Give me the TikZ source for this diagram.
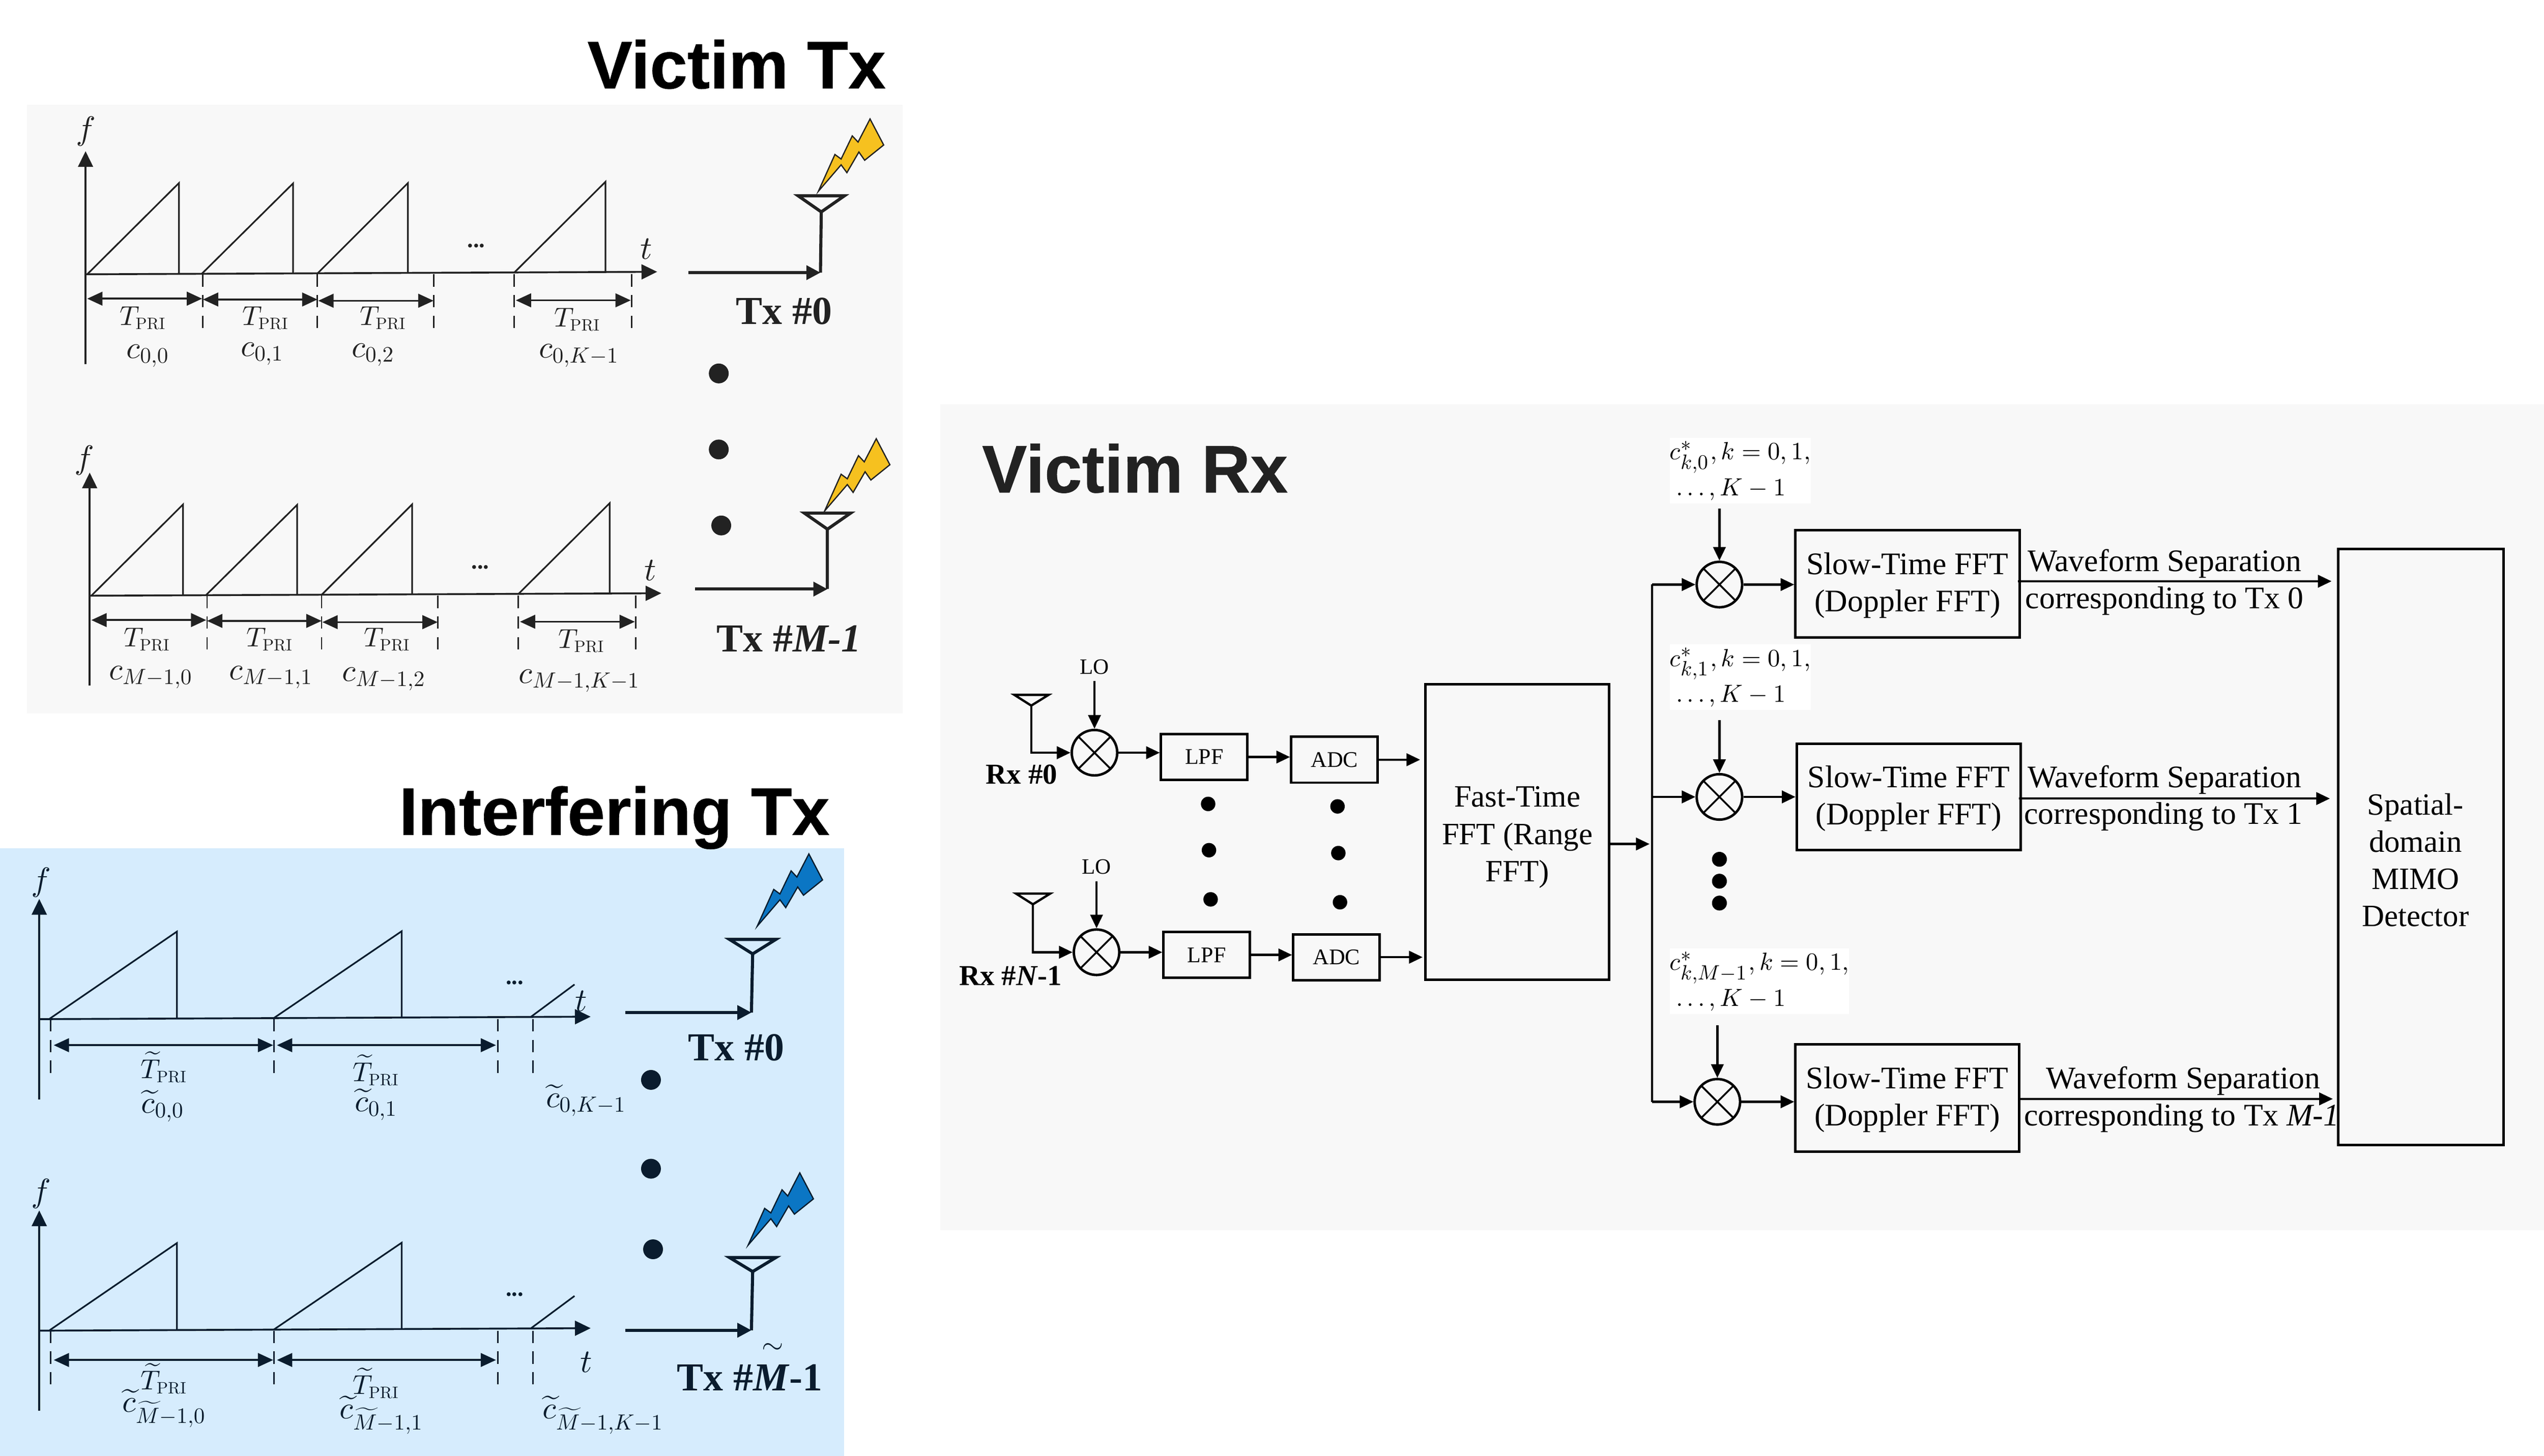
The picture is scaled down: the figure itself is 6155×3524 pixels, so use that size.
\documentclass[tikz,border=0pt]{standalone}
\usepackage[no-math]{fontspec}
\setmainfont{Liberation Serif}
\newfontfamily\headfont[BoldFeatures={FakeBold=0.5}]{Liberation Sans}
\DeclareFontShape{OML}{cmm}{m}{it}{<->cmmi10}{}
\DeclareFontShape{OT1}{cmr}{m}{n}{<->cmr10}{}
\DeclareFontShape{OMS}{cmsy}{m}{n}{<->cmsy10}{}
\DeclareFontShape{OMX}{cmex}{m}{n}{<->cmex10}{}
\DeclareMathSizes{6.6}{6.6}{4}{3}
\usetikzlibrary{arrows.meta}
\newcommand{\fsz}[2]{\fontsize{#1}{#2}\selectfont}
\definecolor{vtgray}{HTML}{F8F8F8}
\definecolor{rxgray}{HTML}{F8F8F8}
\definecolor{ifblue}{HTML}{D6ECFD}
\definecolor{vtink}{HTML}{222222}
\definecolor{ifink}{HTML}{0A1C2E}
\definecolor{boltyellow}{HTML}{F6C11F}
\definecolor{boltblue}{HTML}{0B76C4}
\tikzset{
  head/.style={font=\headfont\bfseries\fsz{16.3}{18},inner sep=0pt},
  axisline/.style={line width=0.45pt,-{Triangle[length=3.8pt,width=3.6pt]}},
  chirpline/.style={line width=0.4pt},
  tickline/.style={line width=0.35pt,dash pattern=on 3pt off 2pt},
  span/.style={line width=0.45pt,{Triangle[length=3.7pt,width=3.3pt]}-{Triangle[length=3.7pt,width=3.3pt]}},
  feed/.style={line width=0.75pt},
  feedtip/.style={feed,-{Triangle[length=3.4pt,width=3.4pt]}},
  anttri/.style={line width=0.75pt,line join=miter},
  bolt/.style={line width=0.3pt,line join=miter},
  plotlab/.style={font=\fsz{6.6}{8},inner sep=0pt},
  clab/.style={font=\fsz{7.6}{9},inner sep=0pt},
  axlab/.style={font=\fsz{8}{9},inner sep=0pt},
  txlab/.style={font=\bfseries\fsz{9.6}{11},inner sep=0pt},
  rxlab/.style={font=\bfseries\fsz{7}{8},inner sep=0pt},
  ell/.style={font=\bfseries\fsz{5.7}{6},inner sep=0pt},
  bigdot/.style={circle,fill,inner sep=0pt,minimum size=4.8pt},
  meddot/.style={circle,fill=black,inner sep=0pt,minimum size=3.5pt},
  blk/.style={draw=black,line width=0.6pt,inner sep=0pt,align=center,font=\fsz{7.6}{9}},
  small/.style={draw=black,line width=0.6pt,inner sep=0pt,font=\fsz{5.4}{6},minimum width=20.9pt,minimum height=11.1pt},
  mixer/.style={circle,draw=black,line width=0.6pt,inner sep=0pt,minimum size=11pt,
    path picture={\draw[line width=0.45pt] (path picture bounding box.north west)--(path picture bounding box.south east)
      (path picture bounding box.north east)--(path picture bounding box.south west);}},
  sig/.style={line width=0.55pt,-{Triangle[length=3.3pt,width=3pt]}},
  wire/.style={line width=0.55pt},
  txt/.style={font=\fsz{7.6}{9},inner sep=0pt},
  lo/.style={font=\fsz{5.3}{6},inner sep=0pt},
  refbox/.style={fill=white,inner sep=0pt,anchor=north west,minimum height=15.9pt,align=left,font=\fsz{6}{8.7}}
}
% chirp panel of the victim transmitter
\newcommand{\victimpanel}[4]{%
\begin{scope}[shift={(#2,#3)},draw=vtink]
 \coordinate (#1o) at (207,882);
 \coordinate (#1ft) at (207,366);
 \coordinate (#1l) at (207,664);
 \coordinate (#1r) at (1590,658);
 \draw[axisline] (#1o) -- (#1ft);
 \draw[axisline] (#1l) -- (#1r);
 \draw[chirpline] (211,664)--(433,443)--(433,663);
 \draw[chirpline] (488,663)--(709,444)--(709,662);
 \draw[chirpline] (768,662)--(987,443)--(987,660);
 \draw[chirpline] (1244,660)--(1465,440)--(1465,659);
 \foreach \x in {491,768,1049,1244,1528} \draw[tickline] (\x,664)--(\x,806);
 \draw[span] (211,723)--(489,723);
 \draw[span] (491,725)--(768,725);
 \draw[span] (770,728)--(1049,728);
 \draw[span] (1248,727)--(1526,727);
 \node[plotlab] (#1p0) at (347,770) {$T_{\mathrm{PRI}}$};
 \node[plotlab] (#1p1) at (644,770) {$T_{\mathrm{PRI}}$};
 \node[plotlab] (#1p2) at (928,770) {$T_{\mathrm{PRI}}$};
 \node[plotlab] (#1p3) at (1398,773) {$T_{\mathrm{PRI}}$};
 \node[axlab] (#1f) at (#4) {$f$};
 \node[axlab] (#1t) at (1564,603) {$t$};
 \node[ell] (#1e) at (1152,595) {...};
\end{scope}}
% chirp panel of the interfering transmitter
\newcommand{\interfpanel}[4]{%
\begin{scope}[shift={(0,#2)},draw=ifink,color=ifink]
 \coordinate (#1o) at (95,2661);
 \coordinate (#1ft) at (95,2176);
 \coordinate (#1l) at (95,2467);
 \coordinate (#1r) at (1429,2461);
 \draw[axisline] (#1o) -- (#1ft);
 \draw[axisline] (#1l) -- (#1r);
 \draw[chirpline] (120,2466)--(428,2255)--(428,2466);
 \draw[chirpline] (663,2464)--(972,2254)--(972,2462);
 \draw[chirpline] (1285,2461)--(1390,2383);
 \foreach \x in {123,663,1205,1289} \draw[tickline] (\x,2467)--(\x,#3);
 \draw[span] (130,#4)--(661,#4);
 \draw[span] (670,#4)--(1200,#4);
 \node[axlab] (#1f) at (100,2136) {$f$};
 \node[ell] (#1e) at (1245,2379) {...};
\end{scope}}
\newcommand{\antenna}[7]{% name, inx, liney, cornerx, topy, apexx, triy
 \coordinate (#1in) at (#2,#3);
 \coordinate (#1c) at (#4,#3);
 \coordinate (#1a) at (#6,#5);
 \draw[feedtip] (#1in) -- (#1c);
 \draw[feed] (#1c) -- (#1a);
 \draw[anttri] (#1a) -- (#6-56,#7) -- (#6+56,#7) -- cycle;
}
\newcommand{\boltshape}[3]{%
 \draw[bolt,fill=#1,draw=#2,shift={(#3)}] (0,0)--(40,-89)--(55,-78)--(82,-134)--(96,-119)--(125,-175)--(158,-112)--(112,-75)--(98,-95)--(69,-45)--(55,-64)--cycle;
}
\newcommand{\refnode}[4]{%
 \node[refbox,minimum width=#3] (#1) at (#2) {#4};
}
\begin{document}
\begin{tikzpicture}[x=0.1pt,y=-0.1pt]
\useasboundingbox (0,0) rectangle (6155,3524);
% backgrounds
\fill[vtgray] (65,254) rectangle (2184,1727);
\fill[ifblue] (0,2053) rectangle (2042,3524);
\fill[rxgray] (2275,979) rectangle (6155,2978);
% titles
\node[head,anchor=base east] (ttlv) at (2145,214) {Victim Tx};
\node[head,anchor=base east] (ttli) at (2009,2021) {Interfering Tx};
\node[head,anchor=base west,text=vtink] (ttlr) at (2374,1192) {Victim Rx};

% ---------- victim Tx
\begin{scope}[color=vtink]
\victimpanel{va}{0}{0}{208,318}
\victimpanel{vb}{10}{778}{194,337}
\node[clab] (vac0) at (359,862) {$c_{0,0}$};
\node[clab] (vac1) at (636,857) {$c_{0,1}$};
\node[clab] (vac2) at (904,859) {$c_{0,2}$};
\node[clab] (vac3) at (1402,861) {$c_{0,K-1}$};
\node[clab] (vbc0) at (366,1640) {$c_{M-1,0}$};
\node[clab] (vbc1) at (657,1640) {$c_{M-1,1}$};
\node[clab] (vbc2) at (930,1644) {$c_{M-1,2}$};
\node[clab] (vbc3) at (1403,1648) {$c_{M-1,K-1}$};
\begin{scope}[draw=vtink]
\antenna{vta}{1665}{660}{1985}{513}{1987}{474}
\antenna{vtb}{1682}{1426}{2002}{1281}{2002}{1242}
\end{scope}
\node[txlab] (vtal) at (1897,753) {Tx \#0};
\node[txlab] (vtbl) at (1909,1546) {Tx \#\textit{M-1}};
\foreach \n/\x/\y in {vd1/1739/904,vd2/1739/1088,vd3/1745/1272} \node[bigdot] (\n) at (\x,\y) {};
\end{scope}
\boltshape{boltyellow}{vtink}{1980,463}
\boltshape{boltyellow}{vtink}{1995,1237}

% ---------- interfering Tx
\begin{scope}[color=ifink]
\interfpanel{ia}{0}{2603}{2530}
\interfpanel{ib}{754}{2609}{2538}
\node[plotlab] (iap0) at (398,2583) {$\widetilde{T}_{\mathrm{PRI}}$};
\node[plotlab] (iap1) at (911,2590) {$\widetilde{T}_{\mathrm{PRI}}$};
\node[plotlab] (ibp0) at (398,3337) {$\widetilde{T}_{\mathrm{PRI}}$};
\node[plotlab] (ibp1) at (911,3348) {$\widetilde{T}_{\mathrm{PRI}}$};
\node[clab] (iac0) at (395,2677) {$\widetilde{c}_{0,0}$};
\node[clab] (iac1) at (911,2674) {$\widetilde{c}_{0,1}$};
\node[clab] (iac2) at (1419,2664) {$\widetilde{c}_{0,K-1}$};
\node[clab] (ibc0) at (398,3409) {$\widetilde{c}_{\widetilde{M}-1,0}$};
\node[clab] (ibc1) at (924,3425) {$\widetilde{c}_{\widetilde{M}-1,1}$};
\node[clab] (ibc2) at (1460,3425) {$\widetilde{c}_{\widetilde{M}-1,K-1}$};
\node[axlab] (iat) at (1406,2423) {$t$};
\node[axlab] (ibt) at (1419,3297) {$t$};
\begin{scope}[draw=ifink]
\antenna{ita}{1513}{2451}{1818}{2309}{1821}{2274}
\antenna{itb}{1513}{3220}{1818}{3078}{1821}{3044}
\end{scope}
\node[txlab] (ital) at (1781,2536) {Tx \#0};
\node[txlab,anchor=base] (itbl) at (1814,3366) {Tx \#\rlap{\hspace{2.1pt}\raisebox{9pt}{$\scriptstyle\sim$}}\textit{M}-1};
\foreach \n/\x/\y in {id1/1575/2614,id2/1575/2829,id3/1580/3024} \node[bigdot] (\n) at (\x,\y) {};
\end{scope}
\boltshape{boltblue}{ifink}{1832,2242}
\boltshape{boltblue}{ifink}{1810,3014}

% ---------- victim Rx: front ends
\node[mixer] (m1) at (2648,1822) {};
\node[mixer] (m2) at (2653,2305) {};
\node[lo] (lo1) at (2648,1614) {LO};
\node[lo] (lo2) at (2653,2098) {LO};
\node[small] (lpf1) at (2913.5,1832.5) {LPF};
\node[small] (lpf2) at (2919.5,2311.5) {LPF};
\node[small] (adc1) at (3228.5,1839) {ADC};
\node[small] (adc2) at (3233.5,2317) {ADC};
\node[blk,minimum width=44.4pt,minimum height=71.6pt,font=\fsz{7.5}{9}] (fft) at (3671,2014) {\rule{0pt}{7.5pt}Fast-Time\\FFT (Range\\FFT)};
\node[rxlab] (rx1) at (2472,1875) {Rx \#0};
\node[rxlab] (rx2) at (2445,2362) {Rx \#\textit{N}-1};
% antennas
\coordinate (a1) at (2495,1708);
\coordinate (a2) at (2499,2189);
\draw[wire,line join=miter] (a1) -- (2454,1682) -- (2537,1682) -- cycle;
\draw[wire,line join=miter] (a2) -- (2458,2163) -- (2541,2163) -- cycle;
\draw[sig] (a1) |- (m1.west);
\draw[sig] (a2) |- (m2.west);
\draw[sig] (lo1.south) ++(0,15) -- (m1.north);
\draw[sig] (lo2.south) ++(0,15) -- (m2.north);
\draw[sig] (m1.east) -- (m1.east -| lpf1.west);
\draw[sig] (m2.east) -- (m2.east -| lpf2.west);
\draw[sig] (lpf1.east) -- (lpf1.east -| adc1.west);
\draw[sig] (lpf2.east) -- (lpf2.east -| adc2.west);
\draw[sig,shorten >=1pt] (adc1.east) -- (adc1.east -| fft.west);
\draw[sig,shorten >=0.4pt] (adc2.east) -- (adc2.east -| fft.west);
\foreach \n/\x/\y in {ld1/2923/1946,ld2/2925/2058,ld3/2929/2177,ad1/3236/1952,ad2/3238/2065,ad3/3242/2184} \node[meddot] (\n) at (\x,\y) {};

% ---------- victim Rx: waveform separation
\node[mixer] (x0) at (4160,1415) {};
\node[mixer] (x1) at (4160,1929) {};
\node[mixer] (x2) at (4155,2667) {};
\coordinate (bus) at (3997,2043);
\coordinate (bus0) at (3997,1415);
\coordinate (bus1) at (3997,1929);
\coordinate (bus2) at (3997,2667);
\draw[sig,shorten >=0.6pt] (fft.east |- bus) -- (bus);
\draw[wire] (bus0) -- (bus2);
\draw[sig] (bus0) -- (x0.west);
\draw[sig] (bus1) -- (x1.west);
\draw[sig] (bus2) -- (x2.west);
\refnode{r0}{4038,1058}{33.7pt}{$c^*_{k,0},k=0,1,$\\\hspace{1.5pt}$\ldots,K-1$}
\refnode{r1}{4038,1558}{33.7pt}{$c^*_{k,1},k=0,1,$\\\hspace{1.5pt}$\ldots,K-1$}
\refnode{r2}{4038,2294}{41.6pt}{$c^*_{k,M-1},k=0,1,$\\\hspace{1.5pt}$\ldots,K-1$}
\coordinate (r0o) at (4160,1231);
\coordinate (r1o) at (4160,1743);
\coordinate (r2o) at (4155,2482);
\draw[sig] (r0o) -- (x0.north);
\draw[sig] (r1o) -- (x1.north);
\draw[sig] (r2o) -- (x2.north);
\node[blk,minimum width=54.2pt,minimum height=26pt] (s0) at (4615,1413) {\rule{0pt}{6.1pt}Slow-Time FFT\\(Doppler FFT)};
\node[blk,minimum width=54.2pt,minimum height=25.8pt] (s1) at (4618,1929) {\rule{0pt}{6.1pt}Slow-Time FFT\\(Doppler FFT)};
\node[blk,minimum width=54.1pt,minimum height=26pt] (s2) at (4614.5,2658) {\rule{0pt}{6.1pt}Slow-Time FFT\\(Doppler FFT)};
\draw[sig] (x0.east) -- (x0.east -| s0.west);
\draw[sig] (x1.east) -- (x1.east -| s1.west);
\draw[sig] (x2.east) -- (x2.east -| s2.west);
\node[blk,minimum width=40pt,minimum height=144.3pt] (det) at (5857,2050.5) {};
\node[txt,align=center,font=\fsz{7.5}{9}] (detl) at (5844,2082) {Spatial-\\domain\\MIMO\\Detector};
\coordinate (w0) at (4882,1407);
\coordinate (w1) at (4885,1933);
\coordinate (w2) at (4888,2660);
\draw[sig,shorten >=1.3pt] (w0) -- (w0 -| det.west);
\draw[sig,shorten >=1.7pt] (w1) -- (w1 -| det.west);
\draw[sig,shorten >=1pt] (w2) -- (w2 -| det.west);
\node[txt] (w0a) at (5237,1365) {Waveform Separation};
\node[txt] (w0b) at (5237,1455) {corresponding to Tx 0};
\node[txt] (w1a) at (5237,1887) {Waveform Separation};
\node[txt] (w1b) at (5234,1977) {corresponding to Tx 1};
\node[txt] (w2a) at (5282,2616) {Waveform Separation};
\node[txt] (w2b) at (5278,2707) {corresponding to Tx \textit{M-1}};
\foreach \n/\y in {q1/2080,q2/2133,q3/2186} \node[meddot,minimum size=3.6pt] (\n) at (4160,\y) {};
\end{tikzpicture}
\end{document}
